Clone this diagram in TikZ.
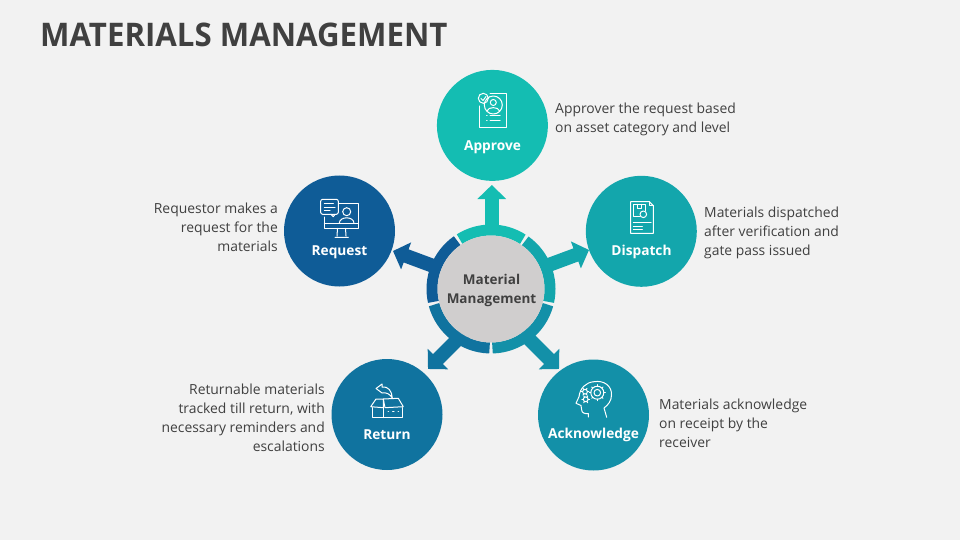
\documentclass[tikz,border=0pt]{standalone}
\usepackage{fontspec}
\setmainfont{Open Sans}
\newfontfamily\titlefont[FakeStretch=0.96]{Open Sans}
\usetikzlibrary{arrows.meta}
\definecolor{pagebg}{HTML}{F2F2F2}
\definecolor{hubgray}{HTML}{D0CECE}
\definecolor{inkgray}{HTML}{404040}
\definecolor{approvecol}{HTML}{14BDB2}
\definecolor{dispatchcol}{HTML}{13A6AC}
\definecolor{acknowcol}{HTML}{1390A8}
\definecolor{returncol}{HTML}{10739F}
\definecolor{requestcol}{HTML}{0F5C97}
\begin{document}
\begin{tikzpicture}[x=1pt, y=-1pt,
    stage/.style={circle, inner sep=0pt, minimum size=111pt},
    stagelabel/.style={text=white, font=\fontsize{13.7}{17}\selectfont\bfseries},
    note/.style={text=inkgray, inner sep=0pt, font=\fontsize{13.9}{19}\selectfont},
    pointer/.style={line width=14pt, -{Triangle[width=28pt,length=14pt]}},
    icon/.style={draw=white, line width=1pt, line join=round, line cap=round}
]
    \fill[pagebg] (0,0) rectangle (960,540);
    \node[anchor=west, inner sep=0pt, text=inkgray, font=\titlefont\fontsize{32.5}{36}\selectfont\bfseries] (title) at (40,35) {MATERIALS MANAGEMENT};

    % Outer circles
    \node[stage, fill=approvecol] (approve) at (492.4,125.4) {};
    \node[stage, fill=requestcol] (request) at (339.5,231) {};
    \node[stage, fill=dispatchcol] (dispatch) at (641.3,231.3) {};
    \node[stage, fill=returncol] (return) at (387,414.5) {};
    \node[stage, fill=acknowcol] (acknowledge) at (593.5,415) {};

    \node[stagelabel] (approvelabel) at (492.5,147) {Approve};
    \node[stagelabel] (requestlabel) at (339.5,252) {Request};
    \node[stagelabel] (dispatchlabel) at (641.5,251.5) {Dispatch};
    \node[stagelabel] (returnlabel) at (387,434.5) {Return};
    \node[stagelabel] (acknowledgelabel) at (593.5,434.5) {Acknowledge};

    % Arrows out of the ring
    \coordinate (approvebase) at (491.8,235);
    \coordinate (approvetip) at (491.8,185);
    \coordinate (requestbase) at (436,267);
    \coordinate (requesttip) at (393,251);
    \coordinate (dispatchbase) at (546,266);
    \coordinate (dispatchtip) at (589,250);
    \coordinate (returnbase) at (465,332);
    \coordinate (returntip) at (428,369);
    \coordinate (acknowledgebase) at (522,332);
    \coordinate (acknowledgetip) at (559,369);
    \draw[pointer, approvecol] (approvebase) -- (approvetip);
    \draw[pointer, requestcol] (requestbase) -- (requesttip);
    \draw[pointer, dispatchcol] (dispatchbase) -- (dispatchtip);
    \draw[pointer, returncol] (returnbase) -- (returntip);
    \draw[pointer, acknowcol] (acknowledgebase) -- (acknowledgetip);

    % Ring segments and hub
    \coordinate (hubcentre) at (491,289);
    \foreach \from/\to/\col in {-122.2/-57.4/approvecol, -192.6/-125/requestcol, -268.6/-195.4/returncol, -344.6/-271.4/acknowcol, -414.6/-347.4/dispatchcol}
        \draw[\col, line width=11pt] ([shift={(\from:59)}]hubcentre) arc[start angle=\from, end angle=\to, radius=59];
    \node[circle, fill=hubgray, inner sep=0pt, minimum size=107pt] (hub) at (hubcentre) {};
    \node[align=center, text=inkgray, inner sep=0pt, font=\fontsize{13.5}{19}\selectfont\bfseries] (hublabel) at (491.5,290.5) {Material\\Management};

    % Notes
    \node[note, anchor=west, align=left] (approvenote) at (555,119) {Approver the request based\\on asset category and level};
    \node[note, anchor=east, align=right] (requestnote) at (278,227.5) {Requestor makes a\\request for the\\materials\hspace{3.5pt}};
    \node[note, anchor=west, align=left] (dispatchnote) at (704,232.5) {Materials dispatched\\after verification and\\gate pass issued};
    \node[note, anchor=east, align=right] (returnnote) at (325,418) {Returnable materials\\tracked till return, with\\necessary reminders and\\escalations};
    \node[note, anchor=west, align=left] (acknowledgenote) at (659,423.5) {Materials acknowledge\\on receipt by the\\receiver};

    % Approve icon
    \draw[icon] (490,94) -- (506,94) -- (506,127.3) -- (479,127.3) -- (479,106);
    \draw[icon] (483.3,98.3) circle (5);
    \draw[icon] (481,98.5) -- (483,100.5) -- (486,96.5);
    \draw[icon] (493.3,105) circle (9);
    \draw[icon] (493.3,102.5) circle (3);
    \draw[icon] (487,111) .. controls (488,106.5) and (498.5,106.5) .. (499.6,111);
    \draw[icon] (490,116) -- (500,116) (490,120.7) -- (500,120.7) (486.5,116) -- (487,116) (486.5,120.7) -- (487,120.7);

    % Request icon
    \draw[icon, rounded corners=2pt] (320.7,199.3) rectangle (338.3,214.3);
    \draw[icon] (331,214.3) -- (333.3,216.7) -- (335,214.3);
    \draw[icon] (324.3,203.3) -- (333.3,203.3) (324.3,207) -- (335,207) (324.3,210.5) -- (330,210.5);
    \draw[icon] (338.3,203.3) -- (358.3,203.3) -- (358.3,228.3) -- (324.3,228.3) -- (324.3,217);
    \draw[icon] (324.3,223.3) -- (358.3,223.3);
    \draw[icon] (337.5,228.3) -- (337,236) (345.5,228.3) -- (346,236) (335,237.3) -- (348.3,237.3);
    \draw[icon] (346.7,211.7) circle (4);
    \draw[icon] (339.3,223.3) .. controls (339.3,216) and (354,216) .. (354,223.3);

    % Dispatch icon
    \draw[icon] (630.7,201.7) -- (649.3,201.7) -- (653.3,205.7) -- (653.3,233.3) -- (630.7,233.3) -- cycle;
    \draw[icon] (649.3,201.7) -- (649.3,205.7) -- (653.3,205.7);
    \draw[icon] (640,216.7) -- (633.3,216.7) -- (633.3,204.3) -- (645,204.3) -- (645,211);
    \draw[icon] (637.3,204.3) -- (637.3,208.3) -- (641.3,208.3) -- (641.3,204.3);
    \draw[icon] (643.3,214.3) circle (3.3);
    \draw[icon] (633.3,222.7) -- (651,222.7) (633.3,226) -- (642.3,226) (633.3,229.5) -- (642.3,229.5);

    % Return icon
    \draw[icon] (372.3,407.5) -- (372.3,417.7) -- (402.3,417.7) -- (402.3,407.5);
    \draw[icon] (370.7,406.7) -- (376,399) -- (383.3,399) -- (383.3,407.7) -- cycle;
    \draw[icon] (383.3,399) -- (398.3,398.3) -- (403.3,406.7) -- (385,407.7) -- (383.3,399);
    \draw[icon] (383.3,407.7) -- (383.3,417.7);
    \draw[icon] (388,411.7) -- (388.5,411.7) (392.5,411.7) -- (394,411.7) (398,411.7) -- (398.5,411.7);
    \draw[icon] (376,388.5) -- (382,384) -- (382,387) .. controls (388,386) and (392,391) .. (392.3,398) .. controls (390,394) and (386,392) .. (382,393) -- cycle;

    % Acknowledge icon
    \draw[icon] (588.3,417) -- (588.3,413.5) .. controls (585,414) and (581.7,413) .. (581.7,410) -- (581,405.5) -- (576,403.3) -- (579,396.7) .. controls (580,388) and (586,382.3) .. (594,381.7) .. controls (604,380) and (612,386) .. (611.5,395) .. controls (611.5,401) and (608,405) .. (604,408) -- (606.7,417.3);
    \foreach \cx/\cy/\rr/\nn in {597.3/392.7/6.5/8, 585/391.7/2.4/6, 585.7/399.3/2.4/6} {
        \draw[icon] (\cx,\cy) circle (\rr);
        \foreach \k in {1,...,\nn}
            \draw[icon] ([shift={(\k*360/\nn:\rr)}]\cx,\cy) -- ([shift={(\k*360/\nn:\rr+1.5)}]\cx,\cy);
    }
    \draw[icon] (597.3,392.7) circle (3.3);
\end{tikzpicture}
\end{document}
